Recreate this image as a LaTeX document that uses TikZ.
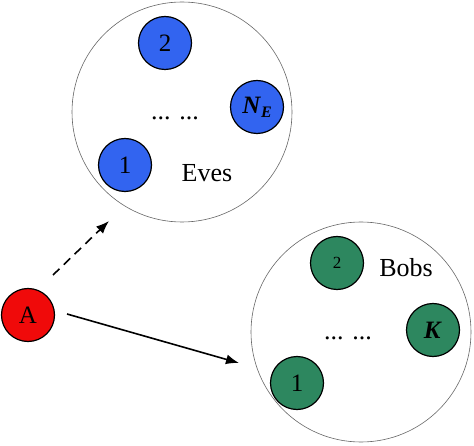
\documentclass[tikz,border=0pt]{standalone}
\usepackage{fontspec}
\setmainfont{Liberation Serif}
\usetikzlibrary{arrows.meta}
\definecolor{eveblue}{RGB}{50,100,240}
\definecolor{bobgreen}{RGB}{45,135,95}
\definecolor{alired}{RGB}{240,10,10}
\begin{document}
\begin{tikzpicture}[x=1pt,y=1pt,
  group/.style={circle,draw=black!60,line width=0.6pt,minimum size=220pt,inner sep=0pt},
  eve/.style={circle,draw=black,fill=eveblue,line width=1.2pt,minimum size=53pt,inner sep=0pt,font=\fontsize{25}{27}\selectfont},
  bob/.style={circle,draw=black,fill=bobgreen,line width=1.2pt,minimum size=53pt,inner sep=0pt,font=\fontsize{25}{27}\selectfont},
  ali/.style={circle,draw=black,fill=alired,line width=1.2pt,minimum size=53pt,inner sep=0pt,font=\fontsize{25}{27}\selectfont},
  lbl/.style={font=\fontsize{26}{28}\selectfont,inner sep=0pt},
  arr/.style={line width=1.6pt,-{Latex[length=13pt,width=10pt]}}
]
\useasboundingbox (0,0) rectangle (474,445);
% Eves group
\node[group] (E) at (182,333) {};
\node[eve] (e2) at (165,402) {2};
\node[eve] (eN) at (257,338) {\textbf{\textit{N}}\raisebox{-4pt}{\fontsize{16}{17}\selectfont\textbf{\textit{E}}}};
\node[eve] (e1) at (125,280) {1};
\node[lbl] (edots) at (175,327) {... ...};
\node[lbl] (elbl) at (207,272) {Eves};
% Bobs group
\node[group] (B) at (361,113) {};
\node[bob,font=\fontsize{17}{19}\selectfont] (b2) at (337,182) {2};
\node[bob] (bK) at (433,115) {\textbf{\textit{K}}};
\node[bob] (b1) at (297,62) {1};
\node[lbl] (bdots) at (348,107) {... ...};
\node[lbl] (blbl) at (406,177) {Bobs};
% Alice
\node[ali] (A) at (28,130) {A};
\coordinate (d0) at (53,170);
\coordinate (d1) at (109,224);
\coordinate (s0) at (67,131);
\coordinate (s1) at (239,82);
\draw[arr,dashed,dash pattern=on 9pt off 6pt] (d0) -- (d1);
\draw[arr] (s0) -- (s1);
\end{tikzpicture}
\end{document}
